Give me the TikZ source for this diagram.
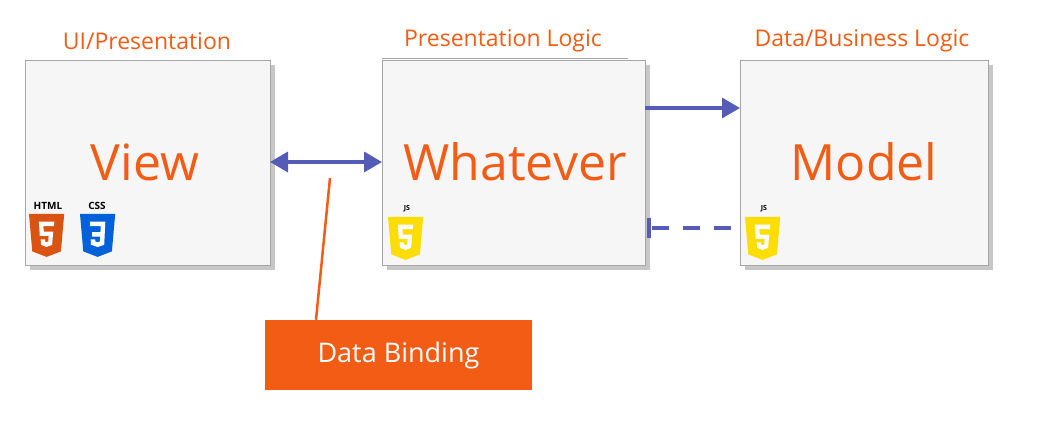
\documentclass[tikz,border=0pt]{standalone}
\usepackage{fontspec}
\setmainfont{Open Sans}
\usetikzlibrary{arrows.meta}
\definecolor{org}{RGB}{242,92,20}
\definecolor{blu}{RGB}{84,92,184}
\definecolor{boxf}{RGB}{246,246,246}
\begin{document}
\begin{tikzpicture}[x=1pt,y=-1pt,
  box/.style={draw=gray!70,fill=boxf,minimum width=#1,minimum height=205,anchor=north west,inner sep=0},
  ttl/.style={text=org,font=\fontsize{23}{26}\selectfont},
  big/.style={text=org,font=\fontsize{50}{56}\selectfont},
  arr/.style={blu,line width=3.5pt,-{Triangle[length=18pt,width=20pt]}},
  shield/.pic={\fill[#1] (0,0)--(32,0)--(29,34)--(16,39)--(3,34)--cycle;
     \fill[white] (9,7)--(23,7)--(22.5,11)--(13,11)--(13.5,16)--(22,16)--(21,28)--(16,30)--(11,28)--(10.6,23)--(14.5,23)--(14.7,25)--(16,25.7)--(17.5,25)--(17.8,20)--(9.8,20)--cycle;},
  css/.pic={\fill[#1] (0,0)--(32,0)--(29,34)--(16,39)--(3,34)--cycle;
     \fill[white] (9,7)--(23,7)--(22,28)--(16,30)--(10,28)--(9.7,23)--(13.7,23)--(14,25)--(16,25.7)--(18,25)--(18.3,20.5)--(11,20.5)--(11,16.5)--(18.6,16.5)--(18.8,11)--(9.3,11)--cycle;},
  lbl/.style={font=\bfseries\fontsize{10}{10}\selectfont}]
\useasboundingbox (0,0) rectangle (1045,435);
\foreach \x/\w in {25/245,382/263,740/248}{\fill[black!22] (\x+5,65) rectangle ++(\w,205);}
\node[box=245] (v) at (25,60) {};
\node[box=263] (w) at (382,60) {};
\node[box=248] (m) at (740,60) {};
\draw[gray!70] (382,58)--(628,58);
\node[ttl] (t1) at (147,41) {UI/Presentation};
\node[ttl] (t2) at (503,41) {Presentation Logic};
\node[ttl] (t3) at (862,41) {Data/Business Logic};
\node[big] at (145,162) {View};
\node[big] at (515,162) {Whatever};
\node[big] at (864,162) {Model};
\node[lbl] at (48,206) {HTML};
\node[lbl] at (97,206) {CSS};
\pic[scale=1.1] at (29,214) {shield=org!90!black};
\pic[scale=1.1] at (80,214) {css={blue!55!cyan!85!black}};
\node[lbl,font=\bfseries\fontsize{7}{7}\selectfont] at (407,209) {JS};
\pic[scale=1.1] at (388,217) {shield={yellow!80!orange}};
\node[lbl,font=\bfseries\fontsize{7}{7}\selectfont] at (764,209) {JS};
\pic[scale=1.1] at (745,217) {shield={yellow!80!orange}};
\coordinate (a1) at (270,162); \coordinate (a2) at (382,162);
\draw[blu,line width=3.5pt,{Triangle[length=18pt,width=20pt]}-{Triangle[length=18pt,width=20pt]}] (a1)--(a2);
\coordinate (b1) at (645,108); \coordinate (b2) at (740,108);
\draw[arr] (b1)--(b2);
\coordinate (c1) at (652,228); \coordinate (c2) at (740,228);
\draw[blu,line width=3.5pt,dash pattern=on 17pt off 14pt] (c1)--(c2);
\draw[blu,line width=3.5pt] (649,218)--(649,238);
\node[fill=org,minimum width=267,minimum height=70,inner sep=0,text=white,font=\fontsize{27}{30}\selectfont] (db) at (398.5,355) {Data Binding};
\coordinate (p) at (330,178);
\draw[org,line width=2.5pt] (p)--(db.north west-|316,0);
\end{tikzpicture}
\end{document}
